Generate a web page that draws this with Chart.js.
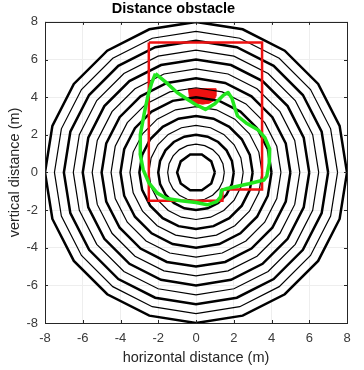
<!DOCTYPE html>
<html>
<head>
<meta charset="utf-8">
<script src="https://cdn.jsdelivr.net/npm/chart.js@4/dist/chart.umd.min.js"></script>
<style>
  html, body { margin: 0; padding: 0; background: #fff; }
  #wrap { width: 364px; height: 370px; }
</style>
</head>
<body>
<div id="wrap"><canvas id="c" width="364" height="370"></canvas></div>
<script>
// ---- data ----
const ringRadii = [1, 1.5, 2, 2.5, 3, 3.5, 4, 4.5, 5, 5.5, 6, 6.5, 7, 7.5, 8];
const ringSides = [10, 20, 20, 20, 20, 20, 20, 20, 20, 20, 20, 20, 20, 20, 20];
const ringThick = [true, false, true, false, true, false, true, false, true, false, true, false, true, false, true];

const rectX = [-2.5, 3.5, 3.5, 1.4, 1.4, -2.5, -2.5];
const rectY = [6.9, 6.9, -0.9, -0.9, -1.5, -1.5, 6.9];

const greenX = [-2.15, -1.6, -1.0, -0.4, 0.0, 0.5, 1.0, 1.45, 1.7, 1.9, 2.05, 2.2, 2.7, 3.3, 3.65, 3.9, 3.88, 3.75, 3.6, 2.8, 1.65, 1.35, 1.3, 1.1, 0.6, 0.0, -0.8, -1.55, -2.05, -2.5, -2.8, -2.96, -2.95, -2.75, -2.55, -2.35, -2.15];
const greenY = [5.25, 4.8, 4.25, 3.85, 3.6, 3.35, 3.65, 4.1, 4.25, 3.95, 3.45, 3.0, 2.6, 2.25, 1.85, 1.25, 0.5, -0.2, -0.4, -0.6, -0.85, -0.95, -1.3, -1.55, -1.72, -1.6, -1.5, -1.38, -1.1, -0.55, 0.15, 1.0, 2.0, 3.1, 4.05, 4.75, 5.25];

const blobX = [-0.4, 1.05, 1.05, 0.95, 0.7, 0.35, 0.0, -0.2, -0.35, -0.4];
const blobY = [4.45, 4.45, 4.05, 3.82, 3.68, 3.63, 3.68, 3.8, 4.02, 4.45];

const tickValues = [-8, -6, -4, -2, 0, 2, 4, 6, 8];

// ---- build datasets ----
function zip(xs, ys) { return xs.map((x, i) => ({ x: x, y: ys[i] })); }

function polygon(r, n) {
  const pts = [];
  for (let k = 0; k <= n; k++) {
    const a = 2 * Math.PI * k / n;
    pts.push({ x: r * Math.cos(a), y: r * Math.sin(a) });
  }
  return pts;
}

const datasets = [];
datasets.push({
  label: 'path', data: zip(greenX, greenY), showLine: true, borderColor: '#22e61e',
  borderWidth: 3.5, pointRadius: 0, tension: 0, order: 0, borderJoinStyle: 'round'
});
datasets.push({
  label: 'box', data: zip(rectX, rectY), showLine: true, borderColor: '#ee1111',
  borderWidth: 2.5, pointRadius: 0, tension: 0, order: 1
});
ringRadii.forEach((r, i) => {
  datasets.push({
    label: 'r' + r, data: polygon(r, ringSides[i]), showLine: true, borderColor: '#000',
    borderWidth: ringThick[i] ? 2.5 : 1.2, pointRadius: 0, tension: 0, order: 2
  });
});
datasets.push({
  label: 'obstacle', data: zip(blobX, blobY), showLine: true, borderColor: '#ee1111',
  backgroundColor: '#ee1111', fill: 'shape', borderWidth: 1, pointRadius: 0, tension: 0, order: 3
});

const framePlugin = {
  id: 'frame',
  afterDraw(chart) {
    const { ctx, chartArea: a, scales } = chart;
    ctx.save();
    ctx.strokeStyle = '#262626';
    ctx.lineWidth = 1;
    ctx.beginPath();
    tickValues.forEach(v => {
      const px = Math.round(scales.x.getPixelForValue(v)) + 0.5;
      const py = Math.round(scales.y.getPixelForValue(v)) + 0.5;
      ctx.moveTo(px, a.bottom); ctx.lineTo(px, a.bottom - 3);
      ctx.moveTo(px, a.top); ctx.lineTo(px, a.top + 3);
      ctx.moveTo(a.left, py); ctx.lineTo(a.left + 3, py);
      ctx.moveTo(a.right, py); ctx.lineTo(a.right - 3, py);
    });
    ctx.stroke();
    ctx.strokeRect(Math.round(a.left) + 0.5, Math.round(a.top) + 0.5,
                   Math.round(a.right - a.left), Math.round(a.bottom - a.top));
    ctx.restore();
  }
};

const tickFont = { family: 'Liberation Sans, Arial, sans-serif', size: 13 };
const labelFont = { family: 'Liberation Sans, Arial, sans-serif', size: 14.5 };

new Chart(document.getElementById('c'), {
  type: 'scatter',
  data: { datasets: datasets },
  options: {
    responsive: false,
    animation: false,
    devicePixelRatio: 1,
    layout: { padding: { left: 0, right: 17, top: 0, bottom: 0 } },
    plugins: {
      legend: { display: false },
      tooltip: { enabled: false },
      title: {
        display: true, text: 'Distance obstacle', color: '#000',
        font: { family: 'Liberation Sans, Arial, sans-serif', size: 14.5, weight: 'bold' },
        padding: { top: 0.5, bottom: 4 }
      }
    },
    scales: {
      x: {
        type: 'linear', min: -8, max: 8,
        afterBuildTicks: s => { s.ticks = tickValues.map(v => ({ value: v })); },
        ticks: { color: '#3a3a3a', font: tickFont, padding: 8, maxRotation: 0 },
        grid: { color: '#eeeeee', drawTicks: false },
        border: { display: false },
        title: { display: true, text: 'horizontal distance (m)', color: '#262626', font: labelFont, padding: { top: 0, bottom: 3 } },
        afterFit: s => { s.height = 47; }
      },
      y: {
        type: 'linear', min: -8, max: 8,
        afterBuildTicks: s => { s.ticks = tickValues.map(v => ({ value: v })); },
        ticks: { color: '#3a3a3a', font: tickFont, padding: 7 },
        grid: { color: '#eeeeee', drawTicks: false },
        border: { display: false },
        title: { display: true, text: 'vertical distance (m)', color: '#262626', font: labelFont, padding: { top: 6, bottom: 0 } },
        afterFit: s => { s.width = 45; }
      }
    }
  },
  plugins: [framePlugin]
});
</script>
</body>
</html>
